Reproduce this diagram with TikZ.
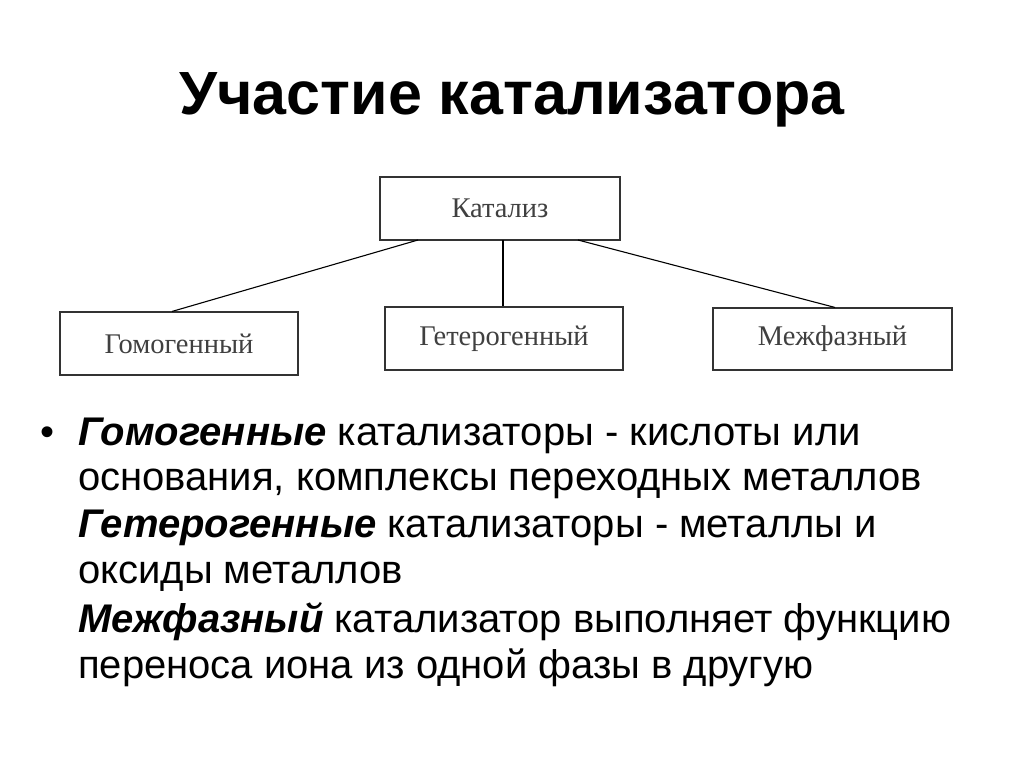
\documentclass[tikz,border=0pt]{standalone}
\usepackage{fontspec}
\setmainfont{Liberation Sans}
\newfontfamily\serifb{Liberation Serif}
\begin{document}
\begin{tikzpicture}[x=1pt,y=-1pt,
 box/.style={draw=black!80,line width=1.1pt,minimum width=240pt,minimum height=63pt,font=\serifb\fontsize{28.5}{32}\selectfont,text=black!75},
 txt/.style={anchor=base west,font=\fontsize{40}{46}\selectfont,inner sep=0pt}]
\useasboundingbox (0,0) rectangle (1024,768);
\node[font=\bfseries\fontsize{61}{70}\selectfont] (title) at (512,100) {Участие катализатора};
\node[box] (k) at (500,208.5) {Катализ};
\node[box,minimum width=238pt] (g1) at (179,343.5) {Гомогенный};
\node[box,minimum width=238pt] (g2) at (504,338.5) {Гетерогенный};
\node[box,minimum width=239pt,minimum height=62pt] (g3) at (832.5,339) {Межфазный};
\draw[line width=1.1pt] (418,240) -- (g1.north -| 172,312);
\draw[line width=1.1pt] (503,240) -- (g2.north -| 503,307);
\draw[line width=1.1pt] (578,240) -- (g3.north -| 835,308);
\node[txt] (b) at (40,445) {•};
\node[txt] (l1) at (78,445) {\textbf{\textit{Гомогенные}} катализаторы - кислоты или};
\node[txt] (l2) at (78,490) {основания, комплексы переходных металлов};
\node[txt] (l3) at (78,537) {\textbf{\textit{Гетерогенные}} катализаторы - металлы и};
\node[txt] (l4) at (78,583) {оксиды металлов};
\node[txt] (l5) at (78,632) {\textbf{\textit{Межфазный}} катализатор выполняет функцию};
\node[txt] (l6) at (78,678) {переноса иона из одной фазы в другую};
\end{tikzpicture}
\end{document}
